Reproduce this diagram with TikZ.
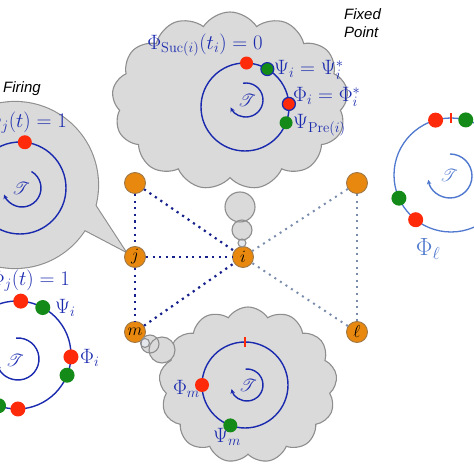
\documentclass[tikz,border=0pt]{standalone}
\usepackage{mathrsfs}
\usepackage{fontspec}
\newfontfamily\helv{Liberation Sans}
\usetikzlibrary{shapes.symbols,arrows.meta}
\definecolor{cblue}{HTML}{1A2AAE}
\definecolor{lblue}{HTML}{4F78CE}
\definecolor{navy}{HTML}{16218C}
\definecolor{edgegray}{HTML}{7A8CAC}
\definecolor{cgray}{HTML}{DADADA}
\definecolor{cline}{HTML}{8E8E8E}
\definecolor{dred}{HTML}{FF2A0A}
\definecolor{dgreen}{HTML}{148A18}
\definecolor{orng}{HTML}{E8880E}
\definecolor{bubl}{HTML}{E4E7EC}
\begin{document}
\begin{tikzpicture}[x=1pt,y=1pt,
  agent/.style={circle,fill=orng,draw=orng!55!black!75,line width=0.9pt,minimum size=21pt,inner sep=0pt,font=\fontsize{18}{18}\selectfont},
  dotA/.style={dash pattern=on 2.2pt off 4.4pt,line cap=butt,line width=2.2pt,navy},
  dotB/.style={dash pattern=on 2pt off 4.6pt,line cap=butt,line width=2pt,edgegray},
  cloudy/.style={cloud,cloud puffs=13,cloud puff arc=115,fill=cgray,draw=cline,line width=1.1pt,inner sep=0pt},
  bub/.style={draw=cline,line width=1.1pt},
  ring/.style={cblue,line width=1.4pt},
  spin/.style={line width=1.4pt,-{Stealth[length=4.5pt,width=4.5pt]}},
  lab/.style={text=cblue,font=\fontsize{20.5}{20.5}\selectfont,inner sep=0pt},
  scr/.style={text=cblue,font=\fontsize{19}{19}\selectfont,inner sep=0pt},
  caption/.style={font=\helv\itshape\fontsize{15}{18}\selectfont,inner sep=0pt,align=left}
]
\useasboundingbox (0,0) rectangle (474,474);

% speech bubble (Firing)
\draw[cline,line width=2.2pt] (15,289) circle[radius=83pt];
\draw[cline,line width=2.2pt] (125,223) -- (65,315) -- (45,265) -- cycle;
\fill[cgray] (15,289) circle[radius=83pt];
\fill[cgray] (125,223) -- (65,315) -- (45,265) -- cycle;

% clouds
\node[cloudy,minimum width=236pt,minimum height=178pt] (fixc) at (230,373) {};
\node[cloudy,minimum width=178pt,minimum height=156pt] (mc) at (248,89) {};

% top cloud content
\draw[ring] (245,367) circle[radius=44pt];
\draw[spin,cblue] (246,374) ++(100:17) arc[start angle=100,end angle=-154,radius=17pt];
\node[scr] (t1) at (247,374) {$\mathscr{T}$};
\fill[dred] (245,367) ++(88:44) circle[radius=6.5pt];
\filldraw[fill=dgreen,draw=cblue,line width=1.1pt] (245,367) ++(59.5:44) circle[radius=6.5pt];
\filldraw[fill=dred,draw=cblue,line width=1.3pt] (245,367) ++(4:44) circle[radius=6.5pt];
\fill[dgreen] (245,367) ++(-21:44) circle[radius=6.5pt];
\node[lab] (lsuc) at (205,429) {$\Phi_{\mathrm{Suc}(i)}(t_i)=0$};
\node[lab,anchor=west] (lpsi) at (274,404) {$\Psi_i=\Psi_i^*$};
\node[lab,anchor=west] (lphi) at (293,377) {$\Phi_i=\Phi_i^*$};
\node[lab,anchor=west] (lpre) at (293,349) {$\Psi_{\mathrm{Pre}(i)}$};
\node[caption,anchor=north west] (fp) at (344,466) {Fixed\\Point};

% firing bubble content
\node[caption,anchor=base west] (fir) at (3,381) {Firing};
\draw[ring] (20,286) circle[radius=46pt];
\draw[spin,cblue] (22,286) ++(60:19) arc[start angle=60,end angle=-160,radius=19pt];
\node[scr] (t2) at (21,286) {$\mathscr{T}$};
\fill[dred] (20,286) ++(84:46) circle[radius=7pt];
\node[lab,anchor=east] (lfj) at (67,351) {$\Phi_j(t)=1$};

% lower-left circle
\draw[ring] (17,119) circle[radius=54pt];
\draw[spin,cblue] (18,115) ++(95:21) arc[start angle=95,end angle=-165,radius=21pt];
\node[scr] (t3) at (15,114) {$\mathscr{T}$};
\fill[dred] (17,119) ++(86:54) circle[radius=7.5pt];
\fill[dgreen] (17,119) ++(61.5:54) circle[radius=7.5pt];
\fill[dred] (17,119) ++(-2:54) circle[radius=7.5pt];
\fill[dgreen] (17,119) ++(-22:54) circle[radius=7.5pt];
\fill[dred] (17,119) ++(-89:54) circle[radius=7.5pt];
\fill[dgreen] (17,119) ++(-110:54) circle[radius=7.5pt];
\node[lab,anchor=west] (lpsii) at (55,166) {$\Psi_i$};
\node[lab,anchor=west] (lphii) at (80,116) {$\Phi_i$};
\node[lab,anchor=east] (lfj2) at (70,193) {$\Phi_j(t)=1$};

% bottom cloud content
\draw[ring] (245,89) circle[radius=43pt];
\draw[dred,line width=1.1pt] (245,127) -- (245,137);
\draw[spin,cblue] (247,89) ++(95:16) arc[start angle=95,end angle=-165,radius=16pt];
\node[scr] (t4) at (248,89) {$\mathscr{T}$};
\fill[dred] (245,89) ++(180:43) circle[radius=7pt];
\fill[dgreen] (245,89) ++(-110:43) circle[radius=7pt];
\node[lab,anchor=east] (lphim) at (200,85) {$\Phi_m$};
\node[lab] (lpsim) at (227,37) {$\Psi_m$};

% right circle
\draw[lblue,line width=1.3pt] (451,299) circle[radius=57pt];
\draw[dred,line width=1.1pt] (451,351) -- (451,361);
\draw[spin,lblue] (450,298) ++(90:22) arc[start angle=90,end angle=-170,radius=22pt];
\node[scr,text=lblue] (t5) at (449,299) {$\mathscr{T}$};
\fill[dred] (451,299) ++(105.7:57) circle[radius=7.5pt];
\fill[dgreen] (451,299) ++(75:57) circle[radius=7.5pt];
\fill[dgreen] (451,299) ++(204:57) circle[radius=7.5pt];
\fill[dred] (451,299) ++(231.7:57) circle[radius=7.5pt];
\node[lab,text=lblue,font=\fontsize{26}{26}\selectfont] (lphil) at (428,225) {$\Phi_\ell$};

% agents
\node[agent] (a) at (135,291) {};
\node[agent] (j) at (135,217) {$j$};
\node[agent] (m) at (135,142) {$m$};
\node[agent] (i) at (243,217) {$i$};
\node[agent] (b) at (357,291) {};
\node[agent] (l) at (357,142) {$\ell$};

\draw[dotA] (a) -- (j);
\draw[dotA] (j) -- (m);
\draw[dotA] (a) -- (i);
\draw[dotA] (j) -- (i);
\draw[dotA] (m) -- (i);
\draw[dotB] (b) -- (i);
\draw[dotB] (l) -- (i);
\draw[dotB] (b) -- (l);

% thought bubbles
\fill[cgray] (240,267) circle[radius=15pt];
\fill[cgray] (242,244) circle[radius=10pt];
\fill[bubl] (242,231) circle[radius=4pt];
\draw[bub] (240,267) circle[radius=15pt];
\draw[bub] (242,244) circle[radius=10pt];
\draw[bub] (242,231) circle[radius=4pt];
\fill[cgray] (162,124) circle[radius=13pt];
\fill[cgray] (150,130) circle[radius=9pt];
\fill[bubl] (145,131) circle[radius=4.5pt];
\draw[bub] (162,124) circle[radius=13pt];
\draw[bub] (150,130) circle[radius=9pt];
\draw[bub] (145,131) circle[radius=4.5pt];
\end{tikzpicture}
\end{document}
